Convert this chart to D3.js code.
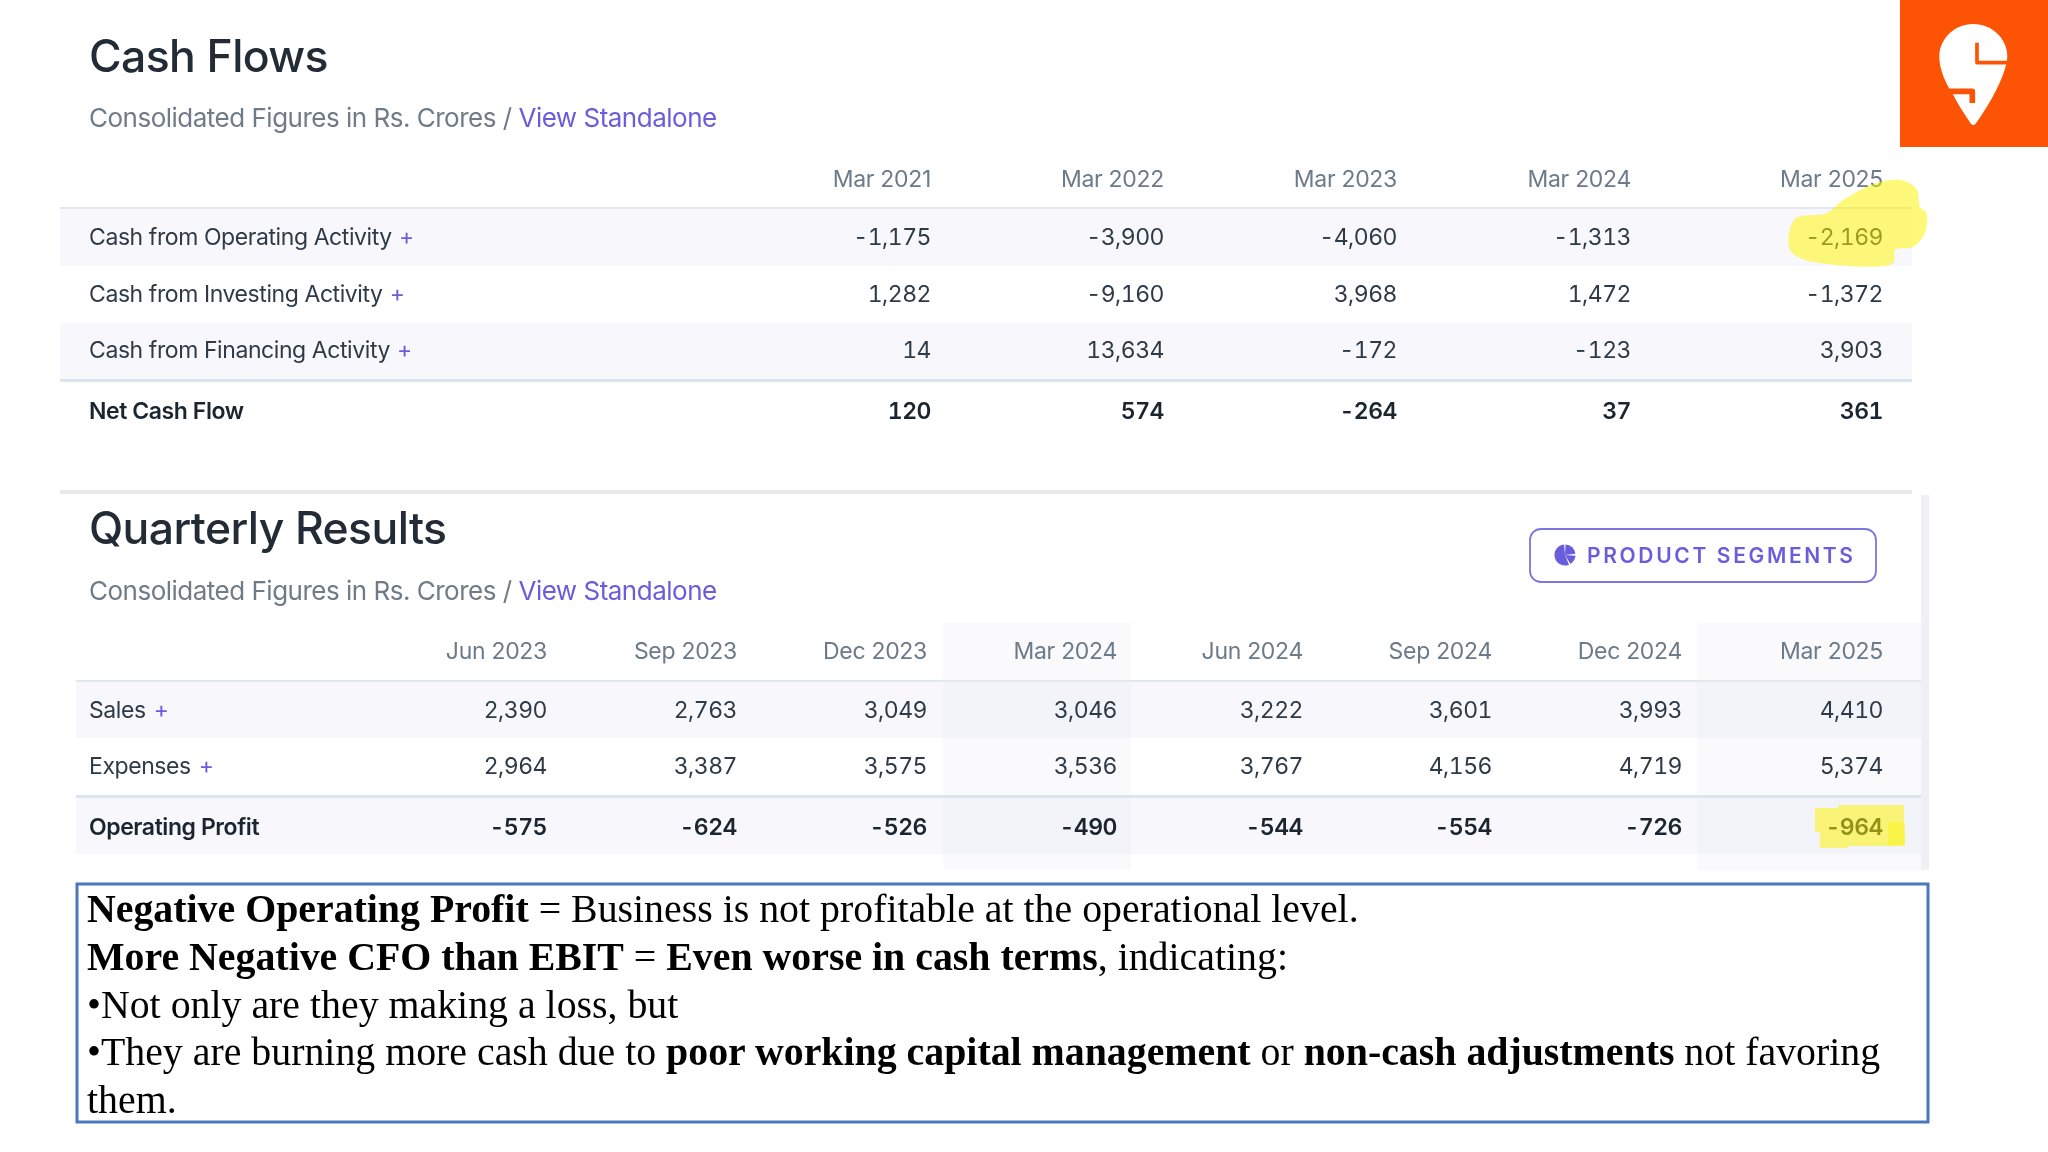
<!DOCTYPE html>
<html>
<head>
<meta charset="utf-8">
<style>
  html, body { margin: 0; padding: 0; background: #fff; }
  svg { display: block; filter: blur(.4px); }
  text { font-family: Inter, "Noto Sans", sans-serif; }
  .num { font-variant-numeric: tabular-nums; font-feature-settings: "tnum" 1; }
</style>
<script src="https://cdn.jsdelivr.net/npm/d3@7"></script>
</head>
<body>
<svg id="chart" width="2048" height="1152"></svg>
<script>
'use strict';
// cash flow table
const cashPeriods = ['Mar 2021', 'Mar 2022', 'Mar 2023', 'Mar 2024', 'Mar 2025'];
const cashRows = ['Cash from Operating Activity', 'Cash from Investing Activity', 'Cash from Financing Activity', 'Net Cash Flow'];
const cashOperating = [-1175, -3900, -4060, -1313, -2169];
const cashInvesting = [1282, -9160, 3968, 1472, -1372];
const cashFinancing = [14, 13634, -172, -123, 3903];
const cashNet = [120, 574, -264, 37, 361];

// quarterly table
const quarters = ['Jun 2023', 'Sep 2023', 'Dec 2023', 'Mar 2024', 'Jun 2024', 'Sep 2024', 'Dec 2024', 'Mar 2025'];
const quarterRows = ['Sales', 'Expenses', 'Operating Profit'];
const sales = [2390, 2763, 3049, 3046, 3222, 3601, 3993, 4410];
const expenses = [2964, 3387, 3575, 3536, 3767, 4156, 4719, 5374];
const operatingProfit = [-575, -624, -526, -490, -544, -554, -726, -964];

// note under the tables, [text, bold]
const noteLines = [
  [['Negative Operating Profit', true], [' = Business is not profitable at the operational level.', false]],
  [['More Negative CFO than EBIT', true], [' = ', false], ['Even worse in cash terms', true], [', indicating:', false]],
  [['•Not only are they making a loss, but', false]],
  [['•They are burning more cash due to ', false], ['poor working capital management', true], [' or ', false], ['non-cash adjustments', true], [' not favoring', false]],
  [['them.', false]]
];

const svg = d3.select('#chart');
const fmt = d3.formatLocale({ decimal: '.', thousands: ',', grouping: [3], currency: ['', ''], minus: '-' }).format(',');

const colors = {
  band: '#f8f8fc', line: '#e3e7ee', thick: '#dbe5ef', head: '#6c7a89', body: '#2f3a47', bold: '#1b2530',
  title: '#232b36', sub: '#6f7b87', link: '#6a5ddb', plus: '#6a5ddb'
};

const xCash = d3.scaleOrdinal().domain(cashPeriods).range([932, 1165, 1398, 1632, 1884]);
const yCash = d3.scaleOrdinal().domain(['head'].concat(cashRows)).range([179, 237, 294, 350, 410.5]);
const xQuarter = d3.scaleOrdinal().domain(quarters).range([548, 738, 928, 1118, 1304, 1493, 1683, 1884]);
const yQuarter = d3.scaleOrdinal().domain(['head'].concat(quarterRows)).range([651, 709.5, 765.5, 826.5]);

function rect(g, x, y, w, h, fill, opacity) {
  return g.append('rect').attr('x', x).attr('y', y).attr('width', w).attr('height', h)
    .attr('fill', fill).attr('opacity', opacity === undefined ? 1 : opacity);
}

function heading(g, title, titleY, subY) {
  g.append('text').attr('x', 89).attr('y', titleY).attr('letter-spacing', -.6)
    .attr('font-size', 44.5).attr('font-weight', 500).attr('fill', colors.title).text(title);
  const sub = g.append('text').attr('x', 89).attr('y', subY).attr('font-size', 26).attr('letter-spacing', -.5).attr('fill', colors.sub);
  sub.append('tspan').text('Consolidated Figures in Rs. Crores / ');
  sub.append('tspan').attr('fill', colors.link).text('View Standalone');
}

function drawTable(g, periods, rows, series, x, y, expandable) {
  g.selectAll('.head').data(periods).join('text').attr('class', 'head')
    .attr('x', d => x(d) - 1).attr('y', y('head')).attr('dy', '.36em').attr('text-anchor', 'end')
    .attr('font-size', 23).attr('letter-spacing', -.3).attr('fill', colors.head).text(d => d);

  rows.forEach((row, i) => {
    const strong = i === rows.length - 1;
    const label = g.append('text').attr('x', 89).attr('y', y(row)).attr('dy', '.36em')
      .attr('font-size', 23).attr('letter-spacing', -.42).attr('font-weight', strong ? 600 : 400)
      .attr('fill', strong ? colors.bold : colors.body).text(row);
    if (!strong && expandable) {
      label.append('tspan').attr('dx', 8).attr('fill', colors.plus).text('+');
    }
    g.selectAll('.v' + i).data(series[i]).join('text').attr('class', 'v' + i + ' num')
      .attr('x', (d, j) => x(periods[j]) - 1).attr('y', y(row)).attr('dy', '.36em').attr('text-anchor', 'end')
      .attr('font-size', 23).attr('font-weight', strong ? 600 : 400)
      .attr('letter-spacing', -.5)
      .attr('fill', strong ? colors.bold : colors.body).text(d => fmt(d));
  });
}

// backgrounds
const bg = svg.append('g');
rect(bg, 60, 208, 1852, 58, colors.band);
rect(bg, 60, 323, 1852, 57, colors.band);
rect(bg, 60, 207, 1852, 2, colors.line);
rect(bg, 60, 379, 1852, 3, colors.thick);
rect(bg, 60, 490, 1852, 4, '#e6e8ea');
rect(bg, 1921, 495, 8, 375, '#eef0f4');

rect(bg, 76, 681, 1845, 57, colors.band);
rect(bg, 76, 798, 1845, 56, colors.band);
rect(bg, 943, 623, 188, 246, '#5a5ab0', .028);
rect(bg, 1697, 623, 224, 247, '#5a5ab0', .028);
rect(bg, 76, 680, 1845, 2, colors.line);
rect(bg, 76, 795, 1845, 3, colors.thick);

// tables
const cashGroup = svg.append('g');
heading(cashGroup, 'Cash Flows', 72, 127);
drawTable(cashGroup, cashPeriods, cashRows, [cashOperating, cashInvesting, cashFinancing, cashNet], xCash, yCash, true);

const quarterGroup = svg.append('g');
heading(quarterGroup, 'Quarterly Results', 544, 599.5);
drawTable(quarterGroup, quarters, quarterRows, [sales, expenses, operatingProfit], xQuarter, yQuarter, true);

// product segments button
const btn = svg.append('g');
btn.append('rect').attr('x', 1530).attr('y', 529).attr('width', 346).attr('height', 53).attr('rx', 11)
  .attr('fill', '#fff').attr('stroke', '#7f74e2').attr('stroke-width', 1.8);
const pie = btn.append('g').attr('transform', 'translate(1565,555)').attr('fill', colors.link);
pie.append('path').attr('d', d3.arc()({ innerRadius: 0, outerRadius: 10.5, startAngle: 0.05, endAngle: 1.45 }));
pie.append('path').attr('d', d3.arc()({ innerRadius: 0, outerRadius: 10.5, startAngle: 1.65, endAngle: 2.6 }));
pie.append('path').attr('d', d3.arc()({ innerRadius: 0, outerRadius: 10.5, startAngle: 2.75, endAngle: 6.2 }));
btn.append('text').attr('x', 1587).attr('y', 555).attr('dy', '.36em')
  .attr('font-size', 21).attr('font-weight', 600).attr('letter-spacing', 2.65)
  .attr('fill', colors.link).text('PRODUCT SEGMENTS');

// highlighter marks
const marker = d3.line().curve(d3.curveCatmullRomClosed.alpha(.5));
const marks = svg.append('g').attr('fill', '#fff400');
const strokeBig = [[1880, 182], [1905, 181], [1917, 190], [1920, 207], [1926, 212], [1925, 233], [1913, 247], [1895, 250], [1893, 263], [1827, 264], [1798, 257], [1789, 248], [1792, 223], [1798, 217], [1827, 213], [1843, 200]];
marks.append('path').attr('d', marker(strokeBig)).attr('fill-opacity', .52);
const straight = d3.line();
marks.append('path').attr('d', straight([[1815, 808], [1838, 808], [1838, 805], [1904, 805], [1904, 823], [1905, 845], [1888, 846], [1848, 846], [1848, 848], [1820, 848], [1820, 832], [1815, 832]]) + 'Z').attr('fill-opacity', .52);
marks.append('rect').attr('x', 1888).attr('y', 822).attr('width', 17).attr('height', 24).attr('fill-opacity', .4);

// note box
const note = svg.append('g');
note.append('rect').attr('x', 77).attr('y', 884).attr('width', 1851).attr('height', 238)
  .attr('fill', 'none').attr('stroke', '#4a78bd').attr('stroke-width', 3);
const noteY = d3.scaleLinear().domain([0, 4]).range([922, 1113]);
noteLines.forEach((parts, i) => {
  const t = note.append('text').attr('x', 87).attr('y', noteY(i))
    .style('font-family', '"Liberation Serif", serif').attr('font-size', 39.85).attr('fill', '#000');
  parts.forEach(p => t.append('tspan').attr('font-weight', p[1] ? 700 : 400).text(p[0]));
});

// logo
const logo = svg.append('g');
rect(logo, 1900, 0, 148, 147, '#fc5404');
const logoPin = logo.append('g').attr('transform', 'translate(1700,0) scale(0.3333)');
logoPin.append('path').attr('fill', '#fff')
  .attr('d', 'M820,72 C878,72 922,118 922,168 C922,182 918,196 914,210 C896,265 860,325 828,370 C823,377 817,377 812,370 C795,345 775,315 760,285 C740,255 718,210 718,170 C718,118 762,72 820,72 Z');
const logoCut = logo.append('g').attr('transform', 'translate(1700,0) scale(0.3333)')
  .attr('fill', 'none').attr('stroke', '#fc5404').attr('stroke-linejoin', 'round');
logoCut.append('path').attr('stroke-width', 11).attr('d', 'M831,128 L831,188 L930,188');
logoCut.append('path').attr('stroke-width', 17).attr('d', 'M730,274 L817,274 L817,309');
</script>
</body>
</html>
